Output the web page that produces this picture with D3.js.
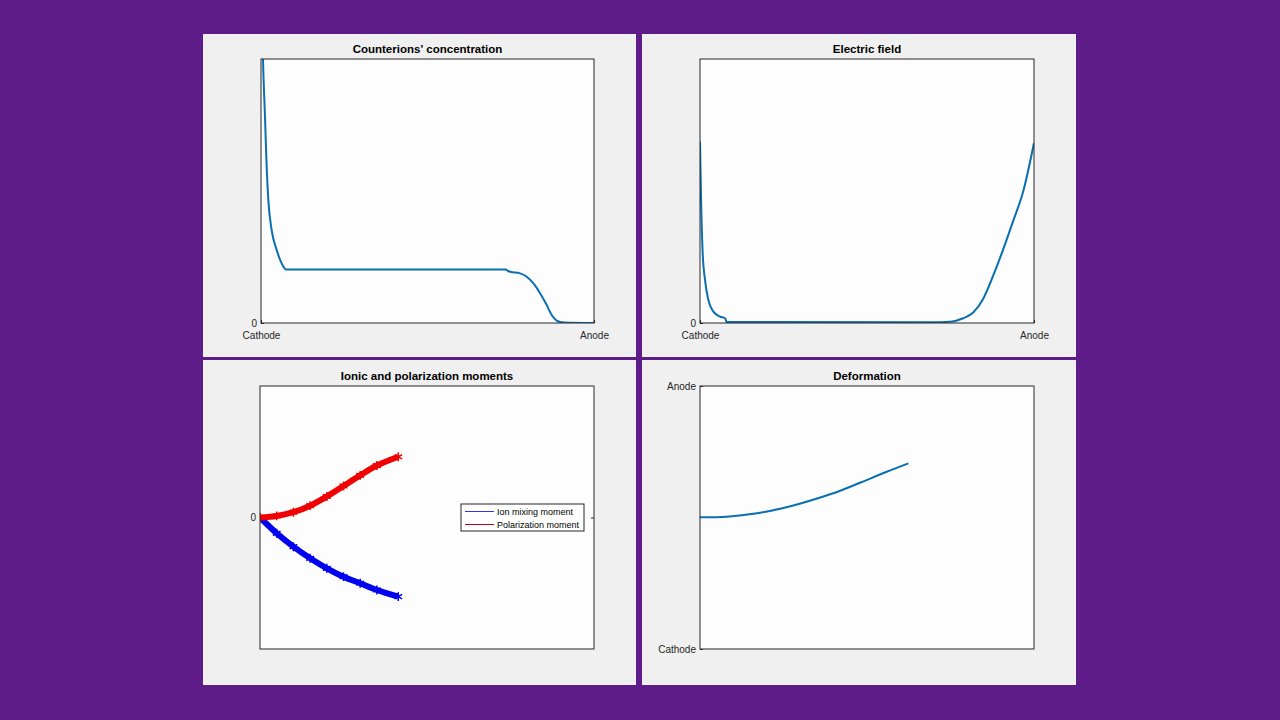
<!DOCTYPE html>
<html>
<head>
<meta charset="utf-8">
<script src="https://cdn.jsdelivr.net/npm/d3@7"></script>
<style>
  body { margin: 0; background: #5d1c87; }
  svg { display: block; font-family: "Liberation Sans", Arial, sans-serif; }
</style>
</head>
<body>
<div id="chart"></div>
<script>
// positions along the device, 0 = Cathode, 1 = Anode
const concX = [0.002, 0.006, 0.012, 0.017, 0.022, 0.032, 0.047, 0.062, 0.075, 0.735, 0.742, 0.748, 0.778, 0.798, 0.818, 0.838, 0.858, 0.873, 0.888, 0.908, 1.0];
const concY = [1.25, 1.0, 0.781, 0.592, 0.466, 0.352, 0.277, 0.226, 0.203, 0.203, 0.197, 0.194, 0.188, 0.175, 0.150, 0.113, 0.068, 0.030, 0.009, 0.002, 0.0];

const fieldX = [0.0, 0.003, 0.008, 0.015, 0.025, 0.040, 0.060, 0.075, 0.080, 0.689, 0.749, 0.788, 0.818, 0.848, 0.878, 0.908, 0.938, 0.968, 1.0];
const fieldY = [0.687, 0.478, 0.265, 0.163, 0.087, 0.043, 0.024, 0.018, 0.004, 0.003, 0.005, 0.018, 0.040, 0.092, 0.180, 0.280, 0.388, 0.500, 0.682];

const momentX = [0.0, 0.05, 0.10, 0.15, 0.20, 0.25, 0.30, 0.35, 0.414];
const ionMixing = [0.0, -0.12, -0.222, -0.31, -0.386, -0.45, -0.50, -0.551, -0.602];
const polarization = [0.0, 0.012, 0.04, 0.09, 0.16, 0.24, 0.32, 0.395, 0.462];

const deformX = [0.0, 0.08, 0.16, 0.24, 0.319, 0.399, 0.479, 0.559, 0.624];
const deformY = [0.501, 0.503, 0.514, 0.533, 0.56, 0.592, 0.632, 0.674, 0.706];

const endLabels = ["Cathode", "Anode"];
const legendNames = ["Ion mixing moment", "Polarization moment"];

const W = 1280, H = 720;
const svg = d3.select("#chart").append("svg")
  .attr("width", W)
  .attr("height", H);

svg.append("rect").attr("width", W).attr("height", H).attr("fill", "#5d1c87");

const panels = [
  {x: 203, y: 34, w: 433, h: 323, title: "Counterions' concentration", box: [261, 59, 594, 323]},
  {x: 642, y: 34, w: 434, h: 323, title: "Electric field", box: [700, 59, 1034, 323]},
  {x: 203, y: 360, w: 433, h: 325, title: "Ionic and polarization moments", box: [260, 386, 594, 649]},
  {x: 642, y: 360, w: 434, h: 325, title: "Deformation", box: [700, 386, 1034, 649]}
];

const lineBlue = "#0a6fb0";
const smooth = d3.curveCatmullRom.alpha(0.5);

panels.forEach(function(p, i) {
  svg.append("rect")
    .attr("x", p.x).attr("y", p.y)
    .attr("width", p.w).attr("height", p.h)
    .attr("fill", "#f0f0f0");

  const [x0, y0, x1, y1] = p.box;
  const g = svg.append("g");

  g.append("rect")
    .attr("x", x0).attr("y", y0)
    .attr("width", x1 - x0).attr("height", y1 - y0)
    .attr("fill", "#fcfdfc");

  g.append("text")
    .attr("x", (x0 + x1) / 2).attr("y", y0 - 6)
    .attr("text-anchor", "middle")
    .attr("font-size", 11.5).attr("font-weight", "bold")
    .attr("fill", "#000")
    .text(p.title);

  const clipId = "clip" + i;
  svg.append("clipPath").attr("id", clipId)
    .append("rect")
    .attr("x", x0).attr("y", y0)
    .attr("width", x1 - x0).attr("height", y1 - y0);

  p.g = g;
  p.clip = "url(#" + clipId + ")";
});

function styleAxis(sel) {
  sel.select(".domain").remove();
  sel.selectAll("line").attr("stroke", "#262626");
  sel.selectAll("text").attr("fill", "#262626").attr("font-size", 10)
    .attr("font-family", "Liberation Sans, Arial, sans-serif");
}

function drawBox(p) {
  const [x0, y0, x1, y1] = p.box;
  p.g.append("rect")
    .attr("x", x0).attr("y", y0)
    .attr("width", x1 - x0).attr("height", y1 - y0)
    .attr("fill", "none")
    .attr("stroke", "#262626")
    .attr("stroke-width", 1);
}

// top panels: concentration and field
[[panels[0], concX, concY], [panels[1], fieldX, fieldY]].forEach(function(d) {
  const p = d[0], xs = d[1], ys = d[2];
  const [x0, y0, x1, y1] = p.box;
  const x = d3.scaleLinear().domain([0, 1]).range([x0, x1]);
  const y = d3.scaleLinear().domain([0, 1]).range([y1, y0]);

  p.g.append("g")
    .attr("transform", `translate(0, ${y1})`)
    .call(d3.axisBottom(x).tickValues([0, 1]).tickFormat((v, k) => endLabels[k]).tickSizeInner(-3).tickSizeOuter(0).tickPadding(9))
    .call(styleAxis);

  p.g.append("g")
    .attr("transform", `translate(${x0}, 0)`)
    .call(d3.axisLeft(y).tickValues([0]).tickFormat(d3.format("d")).tickSizeInner(-3).tickSizeOuter(0).tickPadding(4))
    .call(styleAxis);

  const pts = xs.map((v, k) => [v, ys[k]]);
  p.g.append("path")
    .datum(pts)
    .attr("clip-path", p.clip)
    .attr("fill", "none")
    .attr("stroke", lineBlue)
    .attr("stroke-width", 2)
    .attr("stroke-linejoin", "round")
    .attr("d", d3.line().x(v => x(v[0])).y(v => y(v[1])).curve(d3.curveMonotoneX));

  drawBox(p);
});

// moments panel
(function() {
  const p = panels[2];
  const [x0, y0, x1, y1] = p.box;
  const x = d3.scaleLinear().domain([0, 1]).range([x0, x1]);
  const y = d3.scaleLinear().domain([-1, 1]).range([y1, y0]);

  p.g.append("g")
    .attr("transform", `translate(${x0}, 0)`)
    .call(d3.axisLeft(y).tickValues([0]).tickFormat(d3.format("d")).tickSizeInner(-3).tickSizeOuter(0).tickPadding(4))
    .call(styleAxis);
  p.g.append("g")
    .attr("transform", `translate(${x1}, 0)`)
    .call(d3.axisRight(y).tickValues([0]).tickFormat("").tickSizeInner(-3).tickSizeOuter(0))
    .call(styleAxis);

  const series = [
    {vals: ionMixing, color: "#0000f0", legend: "#3030ff"},
    {vals: polarization, color: "#f00000", legend: "#c00018"}
  ];
  const star = d3.symbol().type(d3.symbolAsterisk).size(55);

  series.forEach(function(s) {
    const pts = momentX.map((v, k) => [v, s.vals[k]]);
    const sg = p.g.append("g").attr("clip-path", p.clip);
    sg.append("path")
      .datum(pts)
      .attr("fill", "none")
      .attr("stroke", s.color)
      .attr("stroke-width", 6)
      .attr("d", d3.line().x(v => x(v[0])).y(v => y(v[1])).curve(smooth));
    sg.selectAll("path.mk")
      .data(pts)
      .join("path")
      .attr("class", "mk")
      .attr("transform", v => `translate(${x(v[0])}, ${y(v[1])})`)
      .attr("d", star)
      .attr("fill", "none")
      .attr("stroke", s.color)
      .attr("stroke-width", 1.5);
  });

  drawBox(p);

  // legend
  const lg = p.g.append("g").attr("transform", "translate(461, 504)");
  lg.append("rect")
    .attr("width", 123).attr("height", 27)
    .attr("fill", "#ffffff")
    .attr("stroke", "#262626")
    .attr("stroke-width", 1);
  legendNames.forEach(function(name, k) {
    const ly = 7.5 + k * 13;
    lg.append("line")
      .attr("x1", 4).attr("x2", 33)
      .attr("y1", ly).attr("y2", ly)
      .attr("stroke", series[k].legend)
      .attr("stroke-width", 1);
    lg.append("text")
      .attr("x", 36).attr("y", ly + 3.5)
      .attr("font-size", 9)
      .attr("fill", "#000")
      .text(name);
  });
})();

// deformation panel
(function() {
  const p = panels[3];
  const [x0, y0, x1, y1] = p.box;
  const x = d3.scaleLinear().domain([0, 1]).range([x0, x1]);
  const y = d3.scaleLinear().domain([0, 1]).range([y1, y0]);

  p.g.append("g")
    .attr("transform", `translate(${x0}, 0)`)
    .call(d3.axisLeft(y).tickValues([0, 1]).tickFormat((v, k) => endLabels[k]).tickSizeInner(-3).tickSizeOuter(0).tickPadding(4))
    .call(styleAxis);

  const pts = deformX.map((v, k) => [v, deformY[k]]);
  p.g.append("path")
    .datum(pts)
    .attr("clip-path", p.clip)
    .attr("fill", "none")
    .attr("stroke", lineBlue)
    .attr("stroke-width", 2)
    .attr("d", d3.line().x(v => x(v[0])).y(v => y(v[1])).curve(smooth));

  drawBox(p);
})();
</script>
</body>
</html>
